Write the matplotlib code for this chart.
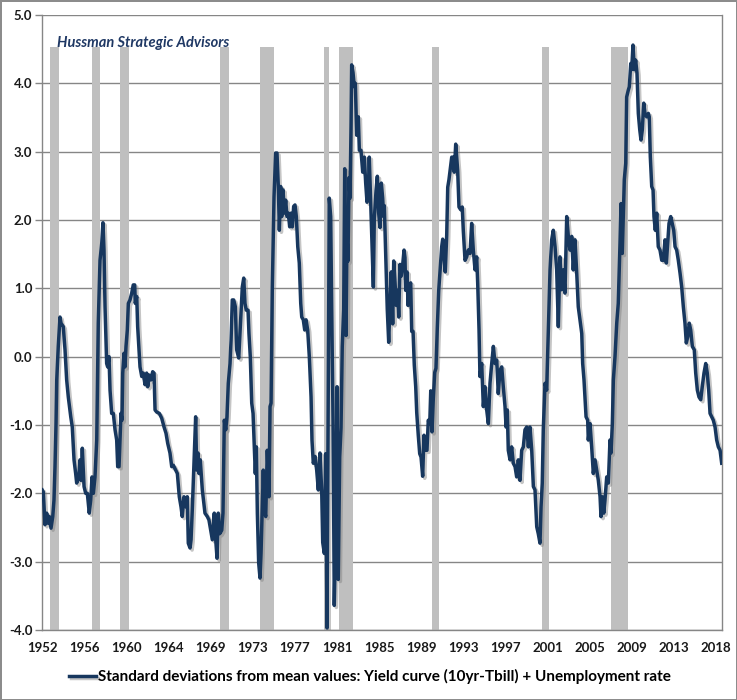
import numpy as np
import matplotlib
matplotlib.use("Agg")
import matplotlib.pyplot as plt
import matplotlib.patheffects as pe

# ---- data ----
years = [
    1952.30, 1952.41, 1952.57, 1952.74, 1952.90, 1952.99, 1953.16, 1953.33, 1953.45, 1953.55,
    1953.65, 1953.72, 1953.87, 1954.04, 1954.14, 1954.36, 1954.53, 1954.69, 1954.85, 1955.09,
    1955.24, 1955.41, 1955.57, 1955.67, 1955.90, 1956.00, 1956.09, 1956.22, 1956.39, 1956.55,
    1956.71, 1956.90, 1957.04, 1957.17, 1957.30, 1957.46, 1957.63, 1957.78, 1957.95, 1958.12,
    1958.24, 1958.34, 1958.44, 1958.60, 1958.70, 1958.83, 1958.93, 1959.09, 1959.25, 1959.42,
    1959.58, 1959.68, 1959.81, 1959.90, 1960.00, 1960.10, 1960.17, 1960.30, 1960.39, 1960.49,
    1960.62, 1960.72, 1960.88, 1961.05, 1961.20, 1961.34, 1961.40, 1961.54, 1961.63, 1961.86,
    1962.03, 1962.18, 1962.35, 1962.51, 1962.61, 1962.77, 1962.93, 1963.10, 1963.23, 1963.33,
    1963.49, 1963.75, 1963.98, 1964.21, 1964.40, 1964.57, 1964.79, 1964.96, 1965.12, 1965.35,
    1965.51, 1965.70, 1965.87, 1965.99, 1966.16, 1966.36, 1966.48, 1966.58, 1966.75, 1966.85,
    1966.97, 1967.14, 1967.30, 1967.40, 1967.53, 1967.63, 1967.75, 1967.95, 1968.21, 1968.44,
    1968.60, 1968.77, 1968.93, 1969.12, 1969.26, 1969.39, 1969.51, 1969.65, 1969.85, 1969.97,
    1970.10, 1970.24, 1970.36, 1970.49, 1970.66, 1970.76, 1970.88, 1971.02, 1971.18, 1971.31,
    1971.51, 1971.70, 1971.86, 1972.00, 1972.12, 1972.25, 1972.42, 1972.51, 1972.64, 1972.78,
    1972.91, 1973.03, 1973.13, 1973.23, 1973.33, 1973.46, 1973.59, 1973.69, 1973.81, 1973.91,
    1974.01, 1974.15, 1974.30, 1974.47, 1974.57, 1974.67, 1974.79, 1974.96, 1975.12, 1975.25,
    1975.38, 1975.48, 1975.61, 1975.71, 1975.84, 1975.97, 1976.10, 1976.23, 1976.36, 1976.49,
    1976.62, 1976.75, 1976.88, 1977.01, 1977.14, 1977.28, 1977.43, 1977.57, 1977.67, 1977.82,
    1977.96, 1978.09, 1978.25, 1978.41, 1978.58, 1978.67, 1978.80, 1978.97, 1979.13, 1979.29,
    1979.45, 1979.62, 1979.72, 1979.88, 1980.01, 1980.14, 1980.27, 1980.36, 1980.50, 1980.60,
    1980.73, 1980.85, 1980.99, 1981.12, 1981.24, 1981.38, 1981.51, 1981.63, 1981.77, 1981.87,
    1982.00, 1982.09, 1982.19, 1982.29, 1982.39, 1982.49, 1982.55, 1982.68, 1982.81, 1982.91,
    1983.04, 1983.20, 1983.30, 1983.46, 1983.63, 1983.79, 1983.92, 1984.05, 1984.18, 1984.27,
    1984.37, 1984.51, 1984.67, 1984.76, 1984.93, 1985.06, 1985.19, 1985.32, 1985.45, 1985.58,
    1985.68, 1985.74, 1985.88, 1986.03, 1986.17, 1986.30, 1986.42, 1986.56, 1986.66, 1986.79,
    1986.91, 1987.05, 1987.15, 1987.27, 1987.40, 1987.54, 1987.67, 1987.76, 1987.83, 1987.96,
    1988.06, 1988.18, 1988.32, 1988.42, 1988.55, 1988.67, 1988.81, 1988.91, 1989.06, 1989.20,
    1989.33, 1989.49, 1989.62, 1989.75, 1989.91, 1990.04, 1990.18, 1990.28, 1990.40, 1990.53,
    1990.67, 1990.79, 1990.92, 1991.06, 1991.18, 1991.35, 1991.45, 1991.58, 1991.70, 1991.84,
    1991.94, 1992.06, 1992.19, 1992.33, 1992.46, 1992.58, 1992.72, 1992.91, 1993.04, 1993.21,
    1993.36, 1993.46, 1993.63, 1993.79, 1993.95, 1994.12, 1994.28, 1994.44, 1994.61, 1994.77,
    1994.87, 1995.00, 1995.09, 1995.26, 1995.42, 1995.58, 1995.75, 1995.91, 1996.07, 1996.24,
    1996.40, 1996.56, 1996.73, 1996.88, 1997.05, 1997.22, 1997.37, 1997.54, 1997.64, 1997.76,
    1997.86, 1998.03, 1998.19, 1998.35, 1998.52, 1998.68, 1998.84, 1999.00, 1999.17, 1999.33,
    1999.49, 1999.66, 1999.82, 1999.98, 2000.15, 2000.31, 2000.47, 2000.64, 2000.79, 2000.96,
    2001.06, 2001.18, 2001.28, 2001.45, 2001.61, 2001.77, 2001.94, 2002.10, 2002.26, 2002.43,
    2002.59, 2002.75, 2002.91, 2003.08, 2003.24, 2003.40, 2003.57, 2003.73, 2003.89, 2004.06,
    2004.21, 2004.38, 2004.55, 2004.70, 2004.87, 2005.04, 2005.13, 2005.26, 2005.46, 2005.62,
    2005.68, 2005.85, 2006.01, 2006.17, 2006.34, 2006.50, 2006.66, 2006.83, 2006.92, 2007.05,
    2007.19, 2007.31, 2007.48, 2007.64, 2007.80, 2007.90, 2008.03, 2008.13, 2008.29, 2008.46,
    2008.61, 2008.78, 2008.88, 2009.00, 2009.10, 2009.20, 2009.34, 2009.43, 2009.59, 2009.69,
    2009.83, 2009.92, 2010.05, 2010.18, 2010.31, 2010.44, 2010.57, 2010.71, 2010.83, 2010.96,
    2011.10, 2011.22, 2011.39, 2011.55, 2011.64, 2011.74, 2011.88, 2012.01, 2012.10, 2012.23,
    2012.37, 2012.52, 2012.69, 2012.86, 2013.01, 2013.18, 2013.31, 2013.44, 2013.57, 2013.74,
    2013.89, 2014.03, 2014.16, 2014.32, 2014.48, 2014.65, 2014.81, 2014.97, 2015.13, 2015.26,
    2015.40, 2015.55, 2015.69, 2015.85, 2016.04, 2016.18, 2016.34, 2016.50, 2016.67, 2016.82,
    2016.99, 2017.16, 2017.31, 2017.45, 2017.58, 2017.74, 2017.90, 2018.07, 2018.23, 2018.39,
    2018.56, 2018.72,
]
values = [
    -1.95, -1.98, -2.46, -2.29, -2.44, -2.34, -2.51, -2.34, -2.10, -1.61,
    -0.98, -0.34, 0.15, 0.58, 0.49, 0.44, 0.10, -0.34, -0.59, -0.88,
    -1.03, -1.51, -1.71, -1.85, -1.71, -1.51, -1.81, -1.34, -1.90, -2.00,
    -2.00, -2.29, -2.10, -1.76, -2.00, -1.76, -1.22, 0.49, 1.41, 1.66,
    1.96, 1.56, 0.73, -0.10, -0.15, 0.00, -0.49, -0.83, -0.83, -1.07,
    -1.22, -1.61, -1.61, -1.22, -0.83, -0.93, -0.24, 0.05, -0.15, 0.15,
    0.39, 0.78, 0.83, 0.93, 1.05, 1.05, 0.78, 0.88, 0.44, -0.15,
    -0.29, -0.24, -0.41, -0.24, -0.44, -0.27, -0.34, -0.22, -0.24, -0.78,
    -0.81, -0.83, -0.90, -1.03, -1.12, -1.27, -1.41, -1.61, -1.59, -1.66,
    -1.71, -2.05, -2.20, -2.34, -2.05, -2.20, -2.05, -2.73, -2.80, -2.68,
    -2.24, -1.56, -0.88, -1.66, -1.41, -1.71, -1.51, -1.95, -2.29, -2.34,
    -2.39, -2.54, -2.68, -2.29, -2.68, -2.95, -2.29, -2.59, -2.54, -2.29,
    -0.93, -1.07, -0.88, -0.39, -0.10, 0.24, 0.83, 0.83, 0.73, 0.10,
    -0.02, 0.54, 1.02, 1.15, 0.78, 0.68, 0.68, 0.34, 0.00, -0.68,
    -0.83, -1.32, -1.71, -1.32, -2.29, -3.02, -3.24, -2.88, -2.24, -1.66,
    -2.24, -2.34, -1.37, -2.05, -0.73, -0.68, 0.98, 2.34, 2.98, 2.98,
    2.49, 1.85, 2.49, 2.05, 2.44, 2.10, 2.29, 2.05, 2.10, 1.90,
    2.10, 1.90, 2.20, 2.22, 2.05, 1.61, 1.37, 0.78, 0.58, 0.54,
    0.39, 0.54, 0.39, 0.00, -0.59, -1.22, -1.56, -1.46, -1.66, -1.95,
    -1.41, -1.96, -2.72, -2.88, -1.42, -3.97, -0.39, 2.32, 2.05, 0.69,
    -0.93, -3.64, -2.56, -0.44, -3.26, -1.47, -1.04, 0.15, 0.69, 2.75,
    0.31, 1.78, 1.40, 2.62, 2.32, 3.40, 4.27, 4.16, 3.95, 4.00,
    3.24, 3.51, 3.02, 3.02, 2.70, 2.92, 2.54, 2.26, 2.43, 2.92,
    2.43, 1.78, 1.02, 2.00, 2.43, 2.64, 2.10, 1.89, 2.54, 2.32,
    2.05, 2.21, 1.45, 0.69, 0.21, 0.80, 1.24, 0.48, 1.40, 1.08,
    0.75, 0.97, 0.58, 1.35, 1.18, 1.35, 1.56, 1.45, 0.97, 1.24,
    0.75, 1.02, 1.08, 0.37, 0.37, -0.12, -0.44, -0.82, -1.15, -1.42,
    -1.47, -1.75, -1.15, -1.37, -1.37, -0.93, -0.99, -0.50, -1.10, -0.61,
    -0.23, -0.17, 0.42, 0.97, 1.24, 1.61, 1.72, 1.45, 1.24, 1.78,
    2.48, 2.59, 2.75, 2.92, 2.92, 2.70, 3.11, 2.73, 2.19, 2.15,
    2.19, 1.85, 1.41, 1.46, 1.56, 1.51, 1.95, 1.56, 1.27, 1.46,
    1.07, 0.39, -0.29, -0.10, -0.73, -0.44, -0.78, -0.98, -0.39, -0.10,
    0.15, -0.10, -0.05, -0.54, -0.20, -0.15, -0.44, -0.73, -1.03, -0.78,
    -1.37, -1.51, -1.32, -1.56, -1.61, -1.76, -1.51, -1.81, -1.37, -1.32,
    -1.07, -1.03, -1.32, -1.03, -1.37, -1.90, -1.95, -2.49, -2.59, -2.73,
    -2.20, -1.85, -1.07, -0.39, -0.49, 0.39, 1.27, 1.71, 1.85, 1.61,
    1.27, 0.44, 1.46, 0.98, 1.27, 0.93, 2.05, 1.76, 1.56, 1.76,
    1.27, 1.71, 1.22, 0.73, 0.54, 0.34, -0.10, -0.34, -0.88, -0.93,
    -1.22, -0.98, -1.32, -1.71, -1.51, -1.66, -1.81, -2.05, -2.34, -2.05,
    -2.29, -2.10, -1.76, -1.85, -1.22, -1.41, -0.98, -0.34, 0.00, 0.49,
    0.78, 1.66, 2.24, 1.51, 2.05, 2.59, 2.83, 3.80, 3.90, 3.95,
    4.29, 4.20, 4.56, 4.20, 4.34, 4.15, 3.56, 3.32, 3.17, 3.32,
    3.71, 3.56, 3.51, 3.56, 3.51, 2.93, 2.49, 2.44, 2.05, 1.85,
    2.10, 1.61, 1.56, 1.41, 1.41, 1.71, 1.37, 1.66, 1.95, 2.05,
    1.95, 1.85, 1.61, 1.56, 1.41, 1.22, 1.02, 0.73, 0.49, 0.20,
    0.29, 0.49, 0.39, 0.15, 0.10, -0.24, -0.49, -0.59, -0.63, -0.44,
    -0.24, -0.10, -0.24, -0.49, -0.83, -0.88, -0.93, -1.03, -1.22, -1.32,
    -1.37, -1.56,
]

# recession shading (start, end) in years
rec_start = [1953.06, 1957.17, 1959.90, 1969.68, 1973.59, 1979.85, 1981.31, 1990.40, 2001.16, 2007.91]
rec_end = [1953.94, 1957.95, 1960.78, 1970.56, 1974.96, 1980.33, 1982.68, 1991.09, 2001.84, 2009.57]
rec_top = 4.53

x_labels = ["1952", "1956", "1960", "1964", "1969", "1973", "1977", "1981", "1985",
            "1989", "1993", "1997", "2001", "2005", "2009", "2013", "2018"]
y_ticks = [5.0, 4.0, 3.0, 2.0, 1.0, 0.0, -1.0, -2.0, -3.0, -4.0]

title_txt = "Hussman Strategic Advisors"
legend_txt = "Standard deviations from mean values: Yield curve (10yr-Tbill) + Unemployment rate"

# ---- style ----
line_col = "#17375E"
grid_col = "#868686"
band_col = "#BFBFBF"
plt.rcParams['font.family'] = ['Lato', 'DejaVu Sans']

fig = plt.figure(figsize=(7.37, 7.0), dpi=100, facecolor='white',
                 edgecolor='#8C8C8C', linewidth=2)
ax = fig.add_axes([42/737, 70/700, 680/737, 615/700])

# shaded recessions
rs = np.array(rec_start)
re = np.array(rec_end)
ax.bar(rs, rec_top - (-4.0), width=re - rs, bottom=-4.0, align='edge',
       color=band_col, edgecolor='none', zorder=1)

ln, = ax.plot(years, values, color=line_col, lw=2.5, solid_joinstyle='round', zorder=3,
              label=legend_txt)
ln.set_path_effects([pe.SimpleLineShadow(offset=(1.5, -1.5), shadow_color='#7f7f7f', alpha=0.45),
                     pe.Normal()])

ax.set_xlim(1952.28, 2018.75)
ax.set_ylim(-4.0, 5.0)

ax.set_yticks(y_ticks)
ax.set_yticklabels([f"{v:.1f}" for v in y_ticks], fontsize=9.5, fontweight='bold', color='#1a1a1a')
ax.set_xticks(np.linspace(1952.33, 2018.16, len(x_labels)))
ax.set_xticklabels(x_labels, fontsize=9.5, fontweight='bold', color='#1a1a1a')
ax.tick_params(axis='y', length=5, width=1, color=grid_col, direction='out', pad=2)
ax.tick_params(axis='x', length=0, pad=9)

ax.grid(axis='y', color=grid_col, lw=1)
ax.set_axisbelow(True)
for s in ['left', 'bottom', 'right']:
    ax.spines[s].set_color(grid_col)
    ax.spines[s].set_linewidth(1)
ax.spines['top'].set_visible(False)

ax.text(0.022, 0.955, title_txt, transform=ax.transAxes, fontsize=10.5,
        fontweight='bold', fontstyle='italic', color='#1F3864', va='center', ha='left')

fig.legend(handles=[ln], loc='center', bbox_to_anchor=(0.502, 0.033), frameon=False,
           handlelength=1.8, handletextpad=0.15, prop={'size': 11, 'weight': 'bold'})

fig.savefig("out.png", dpi=100)
